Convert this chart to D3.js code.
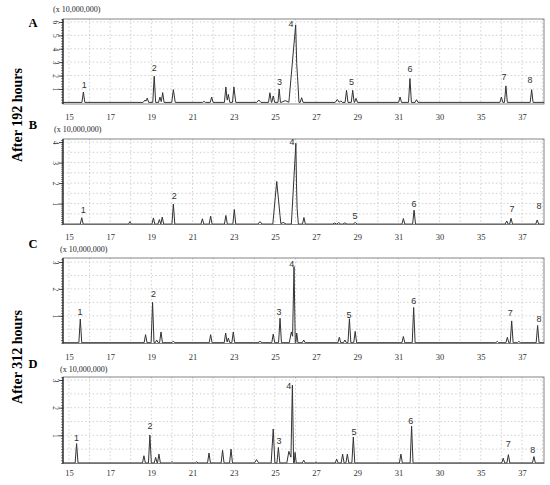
<!DOCTYPE html>
<html><head><meta charset="utf-8">
<script src="https://cdn.jsdelivr.net/npm/d3@7"></script>
<style>body{margin:0;background:#fff}svg{display:block}</style>
</head><body>
<svg id="c" width="550" height="485"></svg>
<script>
// ---------- data ----------
const xTickValues = [15,17,19,21,23,25,27,29,31,33,35,37];
const xTickLabels = ["15","17","19","21","23","25","27","29","31","30","35","37"];
const xDomain = [14.71, 38.07];
const panelNames = ["A","B","C","D"];
const yDomains = [[-0.12,6.22],[-0.02,4.15],[-0.03,3.15],[-0.02,3.11]];
const yTicks = [[1,2,3,4,5,6],[1,2,3,4],[1,2,3],[1,2,3]];
const yGridStep = [1, 0.5, 0.5, 0.5];
const scaleNote = "(x 10,000,000)";
const sideLabels = ["After 192 hours","After 312 hours"];

// peaks: [retention time (min), intensity (x10^7), left half-width, right half-width]
const peaksA = [
 [15.70,0.77],[18.70,0.18,0.1,0.06],[18.80,0.32],[19.14,1.95],[19.42,0.40],[19.55,0.73],
 [20.07,0.95,0.08,0.09],[21.56,0.08],[21.93,0.40],[22.62,1.15],[22.74,0.60],[23.01,1.15,0.07,0.09],
 [24.22,0.18,0.1,0.1],[24.76,0.72],[24.92,0.48],[25.21,1.00,0.06,0.06],[25.50,0.13,0.2,0.2],
 [26.01,5.78,0.33,0.10],[26.10,1.92,0.04,0.07],[26.30,0.35],[28.03,0.22,0.1,0.1],[28.20,0.12],
 [28.48,0.90],[28.78,0.90],[28.94,0.30],[31.08,0.40],[31.56,1.78],[31.88,0.20],
 [36.00,0.40],[36.22,1.23],[37.47,0.95]
];
const peaksB = [
 [15.62,0.31],[17.96,0.12],[19.10,0.30],[19.39,0.22],[19.53,0.34],[20.07,0.98],[21.48,0.26],
 [21.88,0.39],[22.62,0.42],[23.03,0.71],[24.28,0.12,0.1,0.1],[25.09,2.08,0.19,0.2],
 [25.40,0.08,0.15,0.15],[26.02,3.94,0.22,0.06],[26.08,0.76,0.03,0.06],[26.41,0.32],
 [27.90,0.05,0.1,0.1],[28.10,0.07,0.1,0.1],[28.40,0.06,0.1,0.1],[28.90,0.08,0.1,0.1],
 [31.24,0.27],[31.76,0.68],[36.26,0.15],[36.47,0.28],[37.74,0.20]
];
const peaksC = [
 [15.55,0.88],[18.72,0.30],[19.06,1.50],[19.26,0.10],[19.47,0.40],[20.07,0.06],[21.88,0.30],
 [22.61,0.36],[22.74,0.17],[22.98,0.40],[24.28,0.05,0.1,0.1],[24.92,0.32],[25.25,0.91],
 [25.80,0.40,0.1,0.15],[25.93,2.83,0.07,0.06],[26.06,0.36,0.04,0.06],[26.40,0.10],
 [28.13,0.20],[28.40,0.10],[28.62,0.89],[28.90,0.42],[31.24,0.23],[31.74,1.31],
 [35.80,0.05],[36.29,0.20],[36.50,0.81],[36.85,0.05],[37.76,0.64]
];
const peaksD = [
 [15.37,0.70],[18.64,0.26],[18.93,1.01],[19.21,0.20],[19.37,0.32],[20.00,0.05],[21.20,0.04],
 [21.80,0.36],[22.46,0.46],[22.87,0.50],[24.11,0.12,0.1,0.1],[24.92,1.23,0.1,0.08],[25.17,0.56],
 [25.68,0.42,0.1,0.2],[25.85,2.82,0.07,0.06],[25.98,0.38,0.04,0.06],[26.40,0.10],[27.00,0.04],
 [28.00,0.14],[28.29,0.32],[28.52,0.32],[28.81,0.94],[31.12,0.32],[31.64,1.33],
 [36.09,0.17],[36.34,0.30],[37.58,0.23]
];
// peak number annotations: [text, retention time, level]
const labelsA = [["1",15.74,0.76],["2",19.14,2.03],["3",25.23,1.0],["4",25.78,5.31],["5",28.72,1.0],["6",31.56,1.96],["7",36.13,1.36],["8",37.39,1.13]];
const labelsB = [["1",15.69,0.36],["2",20.11,1.05],["4",25.83,3.67],["5",28.89,0.07],["6",31.76,0.65],["7",36.52,0.41],["8",37.83,0.52]];
const labelsC = [["1",15.53,0.88],["2",19.10,1.54],["3",25.20,0.88],["4",25.82,2.65],["5",28.60,0.77],["6",31.74,1.29],["7",36.43,0.83],["8",37.83,0.62]];
const labelsD = [["1",15.37,0.64],["2",18.93,1.08],["3",25.20,0.54],["4",25.68,2.54],["5",28.84,0.87],["6",31.60,1.25],["7",36.34,0.45],["8",37.52,0.21]];

const allPeaks = [peaksA, peaksB, peaksC, peaksD];
const allLabels = [labelsA, labelsB, labelsC, labelsD];

// ---------- layout ----------
const frames = [
 {top:19,  bottom:104,   noteX:53, noteY:12,  letterY:27,  tickY:120},
 {top:139, bottom:224.5, noteX:54, noteY:132, letterY:129, tickY:239.5},
 {top:258, bottom:343.5, noteX:60, noteY:252, letterY:248, tickY:359.5},
 {top:377, bottom:463.5, noteX:60, noteY:372, letterY:368, tickY:476}
];
const left = 63, right = 544;
const svg = d3.select("#c");
const x = d3.scaleLinear().domain(xDomain).range([left, right]);
const DW = 0.07;

function traceOf(peaks) {
  const norm = peaks.map(p => [p[0], p[1], p[2] ?? DW, p[3] ?? DW]);
  const ts = new Set(xDomain);
  norm.forEach(([t,h,wl,wr]) => { ts.add(t-wl); ts.add(t); ts.add(t+wr); });
  const arr = Array.from(ts).filter(t => t>=xDomain[0] && t<=xDomain[1]).sort((a,b)=>a-b);
  return arr.map(t => [t, d3.max(norm, ([p,h,wl,wr]) => {
    if (t < p) return t <= p-wl ? 0 : h*(1-(p-t)/wl);
    return t >= p+wr ? 0 : h*(1-(t-p)/wr);
  })]);
}

frames.forEach((f, i) => {
  const y = d3.scaleLinear().domain(yDomains[i]).range([f.bottom, f.top]);
  const g = svg.append("g");
  // background
  g.append("rect").attr("x", left).attr("y", f.top).attr("width", right-left).attr("height", f.bottom-f.top).attr("fill", "#fff");
  // vertical grid
  const vg = d3.range(15, 38.01, 1);
  g.selectAll(".vg").data(vg).join("line")
    .attr("x1", d=>x(d)).attr("x2", d=>x(d)).attr("y1", f.top).attr("y2", f.bottom)
    .attr("stroke", "#bdbdbd").attr("stroke-width", 0.7).attr("stroke-dasharray", "1.5,2.2");
  const hg = d3.range(yGridStep[i], yDomains[i][1], yGridStep[i]);
  g.selectAll(".hg").data(hg).join("line")
    .attr("x1", left).attr("x2", right).attr("y1", d=>y(d)).attr("y2", d=>y(d))
    .attr("stroke", "#bdbdbd").attr("stroke-width", 0.7).attr("stroke-dasharray", "1.5,2.2");
  // trace
  const line = d3.line().x(d=>x(d[0])).y(d=>y(d[1]));
  g.append("path").datum(traceOf(allPeaks[i])).attr("d", line)
    .attr("fill", "none").attr("stroke", "#333").attr("stroke-width", 1).attr("stroke-linejoin", "round");
  // frame
  g.append("rect").attr("x", left).attr("y", f.top).attr("width", right-left).attr("height", f.bottom-f.top)
    .attr("fill", "none").attr("stroke", "#666").attr("stroke-width", 0.8);
  // y axis (minor + major)
  const minor = d3.range(0, yDomains[i][1], i===0 ? 0.2 : 0.1);
  const ay = g.append("g").attr("transform", `translate(${left},0)`);
  ay.call(d3.axisLeft(y).tickValues(minor).tickSize(2).tickFormat(""));
  ay.select(".domain").remove();
  ay.selectAll("line").attr("stroke", "#333").attr("stroke-width", 0.6);
  const am = g.append("g").attr("transform", `translate(${left},0)`);
  am.call(d3.axisLeft(y).tickValues(yTicks[i]).tickSize(4).tickFormat(d3.format("d")));
  am.select(".domain").remove();
  am.selectAll("line").attr("stroke", "#222").attr("stroke-width", 0.8);
  am.selectAll("text").attr("font-family", "Liberation Serif").attr("font-size", 7.5).attr("fill", "#333")
    .attr("x", 0).attr("dy", 0).attr("text-anchor", "middle")
    .attr("transform", "translate(-10,0) rotate(90)");
  g.append("line").attr("x1", left).attr("x2", left).attr("y1", f.top).attr("y2", f.bottom)
    .attr("stroke", "#111").attr("stroke-width", 1.1);
  // x axis labels
  const ax = g.append("g").attr("transform", `translate(0,${f.bottom})`);
  ax.call(d3.axisBottom(x).tickValues(xTickValues).tickSize(0).tickFormat((d,k)=>xTickLabels[k]));
  ax.select(".domain").remove();
  ax.selectAll("text").attr("font-family", "Liberation Serif").attr("font-size", 8.5).attr("fill", "#333")
    .attr("dy", 0).attr("y", f.tickY - f.bottom);
  // peak labels
  g.selectAll(".pl").data(allLabels[i]).join("text")
    .attr("x", d=>x(d[1])).attr("y", d=>y(d[2]) - 4)
    .attr("text-anchor", "middle").attr("font-family", "Liberation Sans").attr("font-size", 9).attr("fill", "#333")
    .text(d=>d[0]);
  // scale note
  g.append("text").attr("x", f.noteX).attr("y", f.noteY).attr("font-family", "Liberation Serif")
    .attr("font-size", 8).attr("fill", "#222").text(scaleNote);
  // panel letter
  g.append("text").attr("x", 33).attr("y", f.letterY).attr("text-anchor", "middle")
    .attr("font-family", "Liberation Serif").attr("font-weight", "bold").attr("font-size", 12.5).text(panelNames[i]);
});

// side labels
const sideY = [115, 357];
sideLabels.forEach((s, k) => {
  svg.append("text").attr("transform", `translate(22,${sideY[k]}) rotate(-90)`)
    .attr("text-anchor", "middle").attr("font-family", "Liberation Serif").attr("font-weight", "bold")
    .attr("font-size", 14).text(s);
});
</script>
</body></html>
